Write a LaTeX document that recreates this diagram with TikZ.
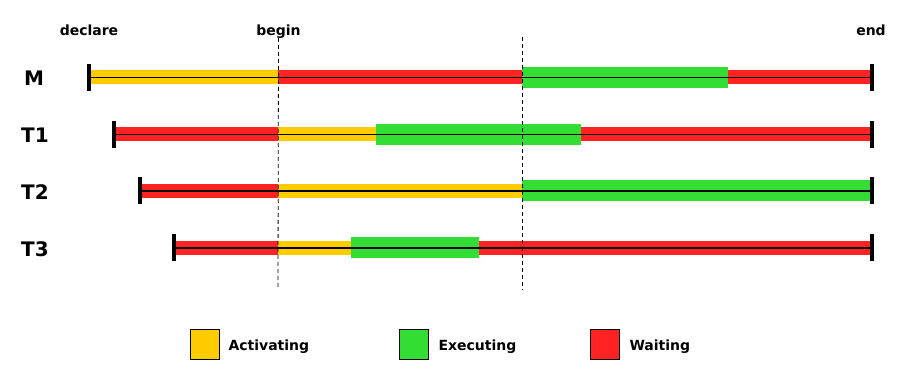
\documentclass[tikz,border=0pt]{standalone}
\usepackage{fontspec}
\setmainfont{DejaVu Sans}
\definecolor{activating}{HTML}{FFCC00}
\definecolor{executing}{HTML}{33DD33}
\definecolor{waiting}{HTML}{FF2222}

\begin{document}
\begin{tikzpicture}[x=1pt,y=-1pt,
	phase/.style={font=\bfseries\fontsize{14}{16}\selectfont,anchor=base},
	rowname/.style={font=\bfseries\fontsize{20}{24}\selectfont,anchor=base},
	marker/.style={fill=black},
	key/.style={draw=black,line width=0.9pt,minimum width=29pt,minimum height=30pt,inner sep=0pt}]
	\useasboundingbox (0,0) rectangle (908,374);

	%% Phase labels
	\node [phase] (declare) at (89,36) {declare};
	\node [phase] (begin) at (278.5,36) {begin};
	\node [phase] (finish) at (871,36) {end};

	%% Task bars: row y, start x, then segments (from/to/state/half height)
	\node [rowname] (M) at (34,86) {M};
	\node [rowname] (T1) at (35,143) {T1};
	\node [rowname] (T2) at (35,199.5) {T2};
	\node [rowname] (T3) at (35,256.5) {T3};

	\foreach \a/\b/\c/\h in {91/278/activating/7, 278/522/waiting/7, 522/728/executing/10.5, 728/870/waiting/7}
		\fill [\c] (\a,77.5-\h) rectangle (\b,77.5+\h);
	\foreach \a/\b/\c/\h in {116/278/waiting/7, 278/376/activating/7, 376/581/executing/10.5, 581/870/waiting/7}
		\fill [\c] (\a,134.5-\h) rectangle (\b,134.5+\h);
	\foreach \a/\b/\c/\h in {142/278/waiting/7, 278/522/activating/7, 522/870/executing/10.5}
		\fill [\c] (\a,191-\h) rectangle (\b,191+\h);
	\foreach \a/\b/\c/\h in {176/278/waiting/7, 278/351/activating/7, 351/479/executing/10.5, 479/870/waiting/7}
		\fill [\c] (\a,248-\h) rectangle (\b,248+\h);

	%% Centre lines and end markers
	\foreach \y/\s in {77.5/89, 134.5/114, 191/140, 248/173.5} {
		\draw [line width=1.1pt] (\s,\y) -- (872,\y);
		\fill [marker] (\s-2,\y-13.5) rectangle (\s+2,\y+13.5);
		\fill [marker] (870,\y-13.5) rectangle (874,\y+13.5);
	}

	%% Dashed time lines
	\coordinate (b1) at (278,290);
	\coordinate (x0) at (522,37);
	\coordinate (x1) at (522,290);
	\draw [dash pattern=on 4pt off 3pt,line width=0.8pt] (begin.south |- 0,38) -- (b1);
	\draw [dash pattern=on 4pt off 3pt,line width=0.8pt] (x0) -- (x1);

	%% Legend
	\node [key,fill=activating] (kact) at (204.5,344) {};
	\node [phase,anchor=base west] (tact) at (225,350) {Activating};
	\node [key,fill=executing] (kexe) at (413.5,344) {};
	\node [phase,anchor=base west] (texe) at (435,350) {Executing};
	\node [key,fill=waiting] (kwait) at (604.5,344) {};
	\node [phase,anchor=base west] (twait) at (626,350) {Waiting};
\end{tikzpicture}
\end{document}
